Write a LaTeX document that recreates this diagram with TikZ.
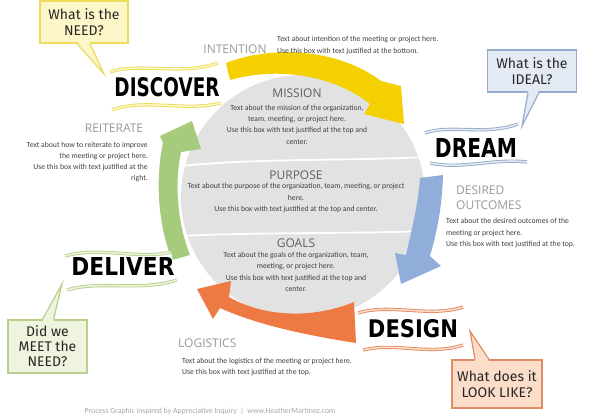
\documentclass[tikz,border=0pt]{standalone}
\usepackage{fontspec}
\usepackage{graphicx}
\setmainfont{Carlito}
\newfontfamily\lblfont{Open Sans}
\newfontfamily\banfont{DejaVu Sans}
\newfontfamily\bubfont{Fira Sans}
\usetikzlibrary{calc}
\definecolor{yarrow}{RGB}{245,208,0}
\definecolor{ybub}{RGB}{252,246,200}
\definecolor{yline}{RGB}{236,220,90}
\definecolor{barrow}{RGB}{145,174,218}
\definecolor{bbub}{RGB}{228,234,244}
\definecolor{bline}{RGB}{150,172,205}
\definecolor{garrow}{RGB}{166,203,124}
\definecolor{gbub}{RGB}{238,244,221}
\definecolor{gline}{RGB}{185,207,140}
\definecolor{oarrow}{RGB}{238,122,67}
\definecolor{obub}{RGB}{251,221,201}
\definecolor{oline}{RGB}{225,140,100}
\definecolor{disc}{RGB}{226,226,226}
\definecolor{txt}{RGB}{65,65,65}
\definecolor{lbl}{RGB}{95,95,95}
\tikzset{
  body/.style={font=\fontsize{7.7}{11.3}\selectfont, text=txt, inner sep=0pt},
  lbltxt/.style={font=\lblfont\fontsize{12}{14}\selectfont, text=lbl, inner sep=0pt},
  bubble/.style={line width=1.2pt, inner sep=0pt, font=\bubfont\fontsize{14}{16}\selectfont, align=center, text=black!85},
  banline/.style={line width=0.9pt, double distance=1.5pt},
  bantext/.style={inner sep=0pt},
  divider/.style={white, line width=1.8pt}
}
\begin{document}
\begin{tikzpicture}[x=1pt,y=-1pt]
\useasboundingbox (0,0) rectangle (600,416);
\fill[white] (0,0) rectangle (600,416);

% central disc
\node[circle, fill=disc, minimum size=244pt, inner sep=0pt] (disc) at (303,197) {};
\begin{scope}
\clip (303,197) circle (122pt);
\draw[divider] (180,166) .. controls (260,158) and (350,161) .. (426,157);
\draw[divider] (180,236) .. controls (260,232) and (350,234) .. (426,231);
\end{scope}

% arrows
\fill[yarrow] (226,63) .. controls (275,44) and (340,50) .. (381,81) -- (401,86) -- (404,124) -- (364,114) -- (370,104) .. controls (335,76) and (280,66) .. (230,80) -- cycle;
\fill[barrow] (420,178) -- (443,175) .. controls (442,210) and (436,235) .. (430,256) -- (441,266) -- (401,284) -- (395,253) -- (406,255) .. controls (412,228) and (418,205) .. (420,178) -- cycle;
\fill[oarrow] (354,302) .. controls (310,320) and (262,316) .. (229,297) -- (231,281) -- (197,289) -- (213,319) -- (220,308) .. controls (258,325) and (305,335) .. (356,343) -- cycle;
\fill[garrow] (172,260) .. controls (160,230) and (154,185) .. (163,143) -- (160,136) -- (192,121) -- (201,149) -- (181,152) .. controls (174,185) and (178,225) .. (190,255) -- cycle;

% banners
\fill[white] (110,72) .. controls (140,62) and (180,76) .. (218,63) -- (221,103) .. controls (185,112) and (145,98) .. (112,110) -- cycle;
\draw[banline, draw=yline, double=ybub] (110,72) .. controls (140,62) and (180,76) .. (218,63);
\draw[banline, draw=yline, double=ybub] (112,110) .. controls (145,98) and (185,112) .. (221,103);
\node[bantext] (discover) at (167,87) {\resizebox{105pt}{19pt}{\banfont\bfseries DISCOVER}};

\fill[white] (425,133) .. controls (450,124) and (485,136) .. (518,124) -- (527,162) .. controls (495,158) and (460,170) .. (430,163) -- cycle;
\draw[banline, draw=bline, double=bbub] (425,133) .. controls (450,124) and (485,136) .. (518,124);
\draw[banline, draw=bline, double=bbub] (430,163) .. controls (460,170) and (495,158) .. (527,162);
\node[bantext] (dream) at (476,148) {\resizebox{82pt}{19pt}{\banfont\bfseries DREAM}};

\fill[white] (65,256) .. controls (100,246) and (140,260) .. (171,252) -- (177,280) .. controls (140,292) and (100,280) .. (67,290) -- cycle;
\draw[banline, draw=gline, double=gbub] (65,256) .. controls (100,246) and (140,260) .. (171,252);
\draw[banline, draw=gline, double=gbub] (67,290) .. controls (100,280) and (140,292) .. (177,280);
\node[bantext] (deliver) at (123,266) {\resizebox{103pt}{18pt}{\banfont\bfseries DELIVER}};

\fill[white] (358,313) .. controls (390,303) and (430,318) .. (463,307) -- (463,345) .. controls (430,356) and (395,342) .. (363,350) -- cycle;
\draw[banline, draw=oline, double=obub] (358,313) .. controls (390,303) and (430,318) .. (463,307);
\draw[banline, draw=oline, double=obub] (363,350) .. controls (395,342) and (430,356) .. (463,345);
\node[bantext] (design) at (413,329) {\resizebox{90pt}{18pt}{\banfont\bfseries DESIGN}};

% bubbles
\node[bubble, draw=yline, fill=ybub, minimum width=88pt, minimum height=42pt] (need) at (84,22) {What is the\\NEED?};
\coordinate (needtip) at (104,74);
\fill[ybub] ($(need.south)+(-7,-2)$) -- (needtip) -- ($(need.south)+(6,-2)$) -- cycle;
\draw[yline, line width=1.2pt] ($(need.south)+(-7,0)$) -- (needtip) -- ($(need.south)+(6,0)$);

\node[bubble, draw=bline, fill=bbub, minimum width=89pt, minimum height=42pt] (ideal) at (532,71) {What is the\\IDEAL?};
\coordinate (idealtip) at (522,126);
\fill[bbub] ($(ideal.south)+(-4,-2)$) -- (idealtip) -- ($(ideal.south)+(7,-2)$) -- cycle;
\draw[bline, line width=1.2pt] ($(ideal.south)+(-4,0)$) -- (idealtip) -- ($(ideal.south)+(7,0)$);

\node[bubble, draw=gline, fill=gbub, minimum width=79pt, minimum height=53pt, font=\bubfont\fontsize{14}{15}\selectfont] (meet) at (47.5,346.5) {Did we\\MEET the\\NEED?};
\coordinate (meettip) at (62,284);
\fill[gbub] ($(meet.north)+(-5,2)$) -- (meettip) -- ($(meet.north)+(6,2)$) -- cycle;
\draw[gline, line width=1.2pt] ($(meet.north)+(-5,0)$) -- (meettip) -- ($(meet.north)+(6,0)$);

\node[bubble, draw=oline, fill=obub, minimum width=90pt, minimum height=48pt] (look) at (497,384) {What does it\\LOOK LIKE?};
\coordinate (looktip) at (470,331);
\fill[obub] ($(look.north)+(-22,2)$) -- (looktip) -- ($(look.north)+(-8,2)$) -- cycle;
\draw[oline, line width=1.2pt] ($(look.north)+(-22,0)$) -- (looktip) -- ($(look.north)+(-8,0)$);

% labels and texts
\node[lbltxt, text=black!40] (intention) at (235,49) {INTENTION};
\node[body, anchor=west, align=left] (intentiontxt) at (277,45.5) {Text about intention of the meeting or project here.\\Use this box with text justified at the bottom.};

\node[lbltxt] (mission) at (297,93) {MISSION};
\node[body, align=center] (missiontxt) at (297,124.5) {Text about the mission of the organization,\\team, meeting, or project here.\\Use this box with text justified at the top and\\center.};

\node[lbltxt] (purpose) at (296,175) {PURPOSE};
\node[body, align=center] (purposetxt) at (296,198) {Text about the purpose of the organization, team, meeting, or project\\here.\\Use this box with text justified at the top and center.};

\node[lbltxt] (goals) at (296,243) {GOALS};
\node[body, align=center] (goalstxt) at (296,272) {Text about the goals of the organization, team,\\meeting, or project here.\\Use this box with text justified at the top and\\center.};

\node[lbltxt, text=black!40] (reiterate) at (114,128) {REITERATE};
\node[body, anchor=east, align=right] (reiteratetxt) at (148,162) {Text about how to reiterate to improve\\the meeting or project here.\\Use this box with text justified at the\\right.};

\node[lbltxt, text=black!40, anchor=west, align=left, font=\lblfont\fontsize{12}{15}\selectfont] (desired) at (456,198) {DESIRED\\OUTCOMES};
\node[body, anchor=west, align=left] (desiredtxt) at (446,233) {Text about the desired outcomes of the\\meeting or project here.\\Use this box with text justified at the top.};

\node[lbltxt, text=black!40, anchor=west] (logistics) at (178,343) {LOGISTICS};
\node[body, anchor=west, align=left] (logisticstxt) at (182,367) {Text about the logistics of the meeting or project here.\\Use this box with text justified at the top.};

\node[body, text=black!35, font=\fontsize{7.8}{9}\selectfont] (footer) at (210,411) {Process Graphic inspired by Appreciative Inquiry \ | \ www.HeatherMartinez.com};
\end{tikzpicture}
\end{document}
